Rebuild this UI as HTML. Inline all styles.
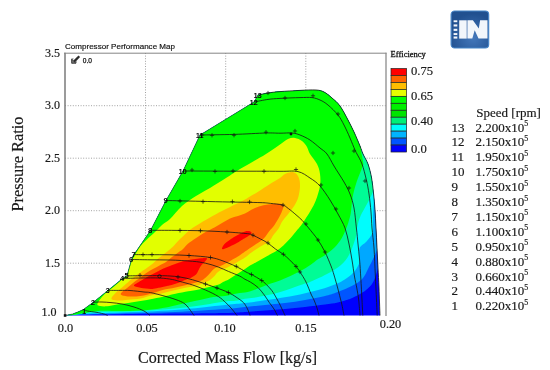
<!DOCTYPE html>
<html><head><meta charset="utf-8"><title>Compressor Performance Map</title>
<style>
html,body{margin:0;padding:0;background:#fff}
body{-webkit-text-stroke:0.18px #1a1a1a;filter:blur(0.3px);width:550px;height:370px;position:relative;overflow:hidden;font-family:"Liberation Serif",serif;color:#1a1a1a}
.t{position:absolute;white-space:nowrap;line-height:1}
.yt{font-size:12px;left:36px;width:24px;text-align:right}
.xt{font-size:12.3px;width:40px;text-align:center;top:322px}
.r{position:absolute;left:451.6px;font-size:13px;line-height:15px;white-space:nowrap;height:15px}
.r .n{position:absolute;left:0;top:0}
.r .v{position:absolute;left:24px;top:0}
.r sup{font-size:8px;vertical-align:baseline;position:relative;top:-5.5px;line-height:0}
</style></head><body>
<svg width="550" height="370" viewBox="0 0 550 370" style="position:absolute;left:0;top:0">
<line x1="145.5" y1="53" x2="145.5" y2="315" stroke="#8a8a8a" stroke-width="0.8" stroke-dasharray="1 1.6"/>
<line x1="225.7" y1="53" x2="225.7" y2="315" stroke="#8a8a8a" stroke-width="0.8" stroke-dasharray="1 1.6"/>
<line x1="305.8" y1="53" x2="305.8" y2="315" stroke="#8a8a8a" stroke-width="0.8" stroke-dasharray="1 1.6"/>
<line x1="65" y1="105.7" x2="386" y2="105.7" stroke="#8a8a8a" stroke-width="0.8" stroke-dasharray="1 1.6"/>
<line x1="65" y1="158.2" x2="386" y2="158.2" stroke="#8a8a8a" stroke-width="0.8" stroke-dasharray="1 1.6"/>
<line x1="65" y1="210.7" x2="386" y2="210.7" stroke="#8a8a8a" stroke-width="0.8" stroke-dasharray="1 1.6"/>
<line x1="65" y1="263.2" x2="386" y2="263.2" stroke="#8a8a8a" stroke-width="0.8" stroke-dasharray="1 1.6"/>
<defs><filter id="soft" x="-5%" y="-5%" width="110%" height="110%"><feGaussianBlur stdDeviation="0.45"/></filter></defs><g id="map" filter="url(#soft)">
<path d="M65.0,315.4L72.7,314.0L79.0,311.5L83.5,309.5L85.5,307.9L93.3,302.3L108.0,290.4L122.6,278.5L127.0,275.8L131.5,259.5L134.0,254.6L150.6,230.3L166.0,200.5L183.0,171.0L200.0,135.0L254.0,102.0L258.0,95.0L258.0,95.0C259.7,94.7 264.3,93.6 268.0,93.0C271.7,92.4 274.7,92.0 280.0,91.6C285.3,91.2 294.0,90.7 300.0,90.4C306.0,90.1 312.0,89.7 316.0,90.0C320.0,90.3 321.3,90.7 324.0,92.0C326.7,93.3 329.3,95.7 332.0,98.0C334.7,100.3 337.3,102.3 340.0,106.0C342.7,109.7 345.7,115.7 348.0,120.0C350.3,124.3 352.0,127.7 354.0,132.0C356.0,136.3 358.5,142.3 360.0,146.0C361.5,149.7 361.7,151.0 363.0,154.0C364.3,157.0 366.6,160.0 368.0,164.0C369.4,168.0 370.7,173.0 371.6,178.0C372.5,183.0 373.0,188.7 373.6,194.0C374.2,199.3 374.6,204.3 375.0,210.0C375.4,215.7 375.7,221.7 376.0,228.0C376.3,234.3 376.7,241.3 377.0,248.0C377.3,254.7 377.7,261.3 378.0,268.0C378.3,274.7 378.7,280.1 379.0,288.0C379.3,295.9 379.8,310.9 380.0,315.5L65,315.5Z" fill="#0000fe"/>
<path d="M65.0,315.4L72.7,314.0L79.0,311.5L83.5,309.5L85.5,307.9L93.3,302.3L108.0,290.4L122.6,278.5L127.0,275.8L131.5,259.5L134.0,254.6L150.6,230.3L166.0,200.5L183.0,171.0L200.0,135.0L254.0,102.0L258.0,95.0L268.0,93.0C270.0,92.8 274.7,92.0 280.0,91.6C285.3,91.2 294.0,90.7 300.0,90.4C306.0,90.1 312.0,89.7 316.0,90.0C320.0,90.3 321.3,90.7 324.0,92.0C326.7,93.3 329.3,95.7 332.0,98.0C334.7,100.3 337.3,102.3 340.0,106.0C342.7,109.7 345.7,115.7 348.0,120.0C350.3,124.3 352.0,127.7 354.0,132.0C356.0,136.3 358.5,142.3 360.0,146.0C361.5,149.7 361.7,151.0 363.0,154.0C364.3,157.0 366.6,160.0 368.0,164.0C369.4,168.0 370.7,173.0 371.6,178.0C372.5,183.0 373.0,188.7 373.6,194.0C374.2,199.3 374.6,204.3 375.0,210.0C375.4,215.7 375.7,221.7 376.0,228.0C376.3,234.3 376.7,241.3 377.0,248.0C377.3,254.7 377.8,264.7 378.0,268.0L378.0,268.0C377.6,269.4 376.5,273.8 375.5,276.5C374.5,279.2 373.6,281.8 372.0,284.0C370.4,286.2 368.0,288.3 366.0,290.0C364.0,291.7 362.6,292.6 360.0,294.0C357.4,295.4 354.2,297.3 350.5,298.7C346.8,300.1 341.9,301.5 337.7,302.5C333.4,303.5 330.4,303.8 325.0,304.5C319.6,305.2 311.7,306.2 305.0,307.0C298.3,307.8 291.7,308.4 285.0,309.0C278.3,309.6 271.7,310.1 265.0,310.6C258.3,311.1 251.7,311.6 245.0,312.0C238.3,312.4 236.7,312.7 225.0,313.0C213.3,313.3 192.5,313.4 175.0,313.6C157.5,313.8 135.0,314.0 120.0,314.2C105.0,314.4 94.0,314.6 85.0,314.8C76.0,315.0 69.2,315.3 66.0,315.4Z" fill="#0055ff"/>
<path d="M65.0,315.4L72.7,314.0L79.0,311.5L83.5,309.5L85.5,307.9L93.3,302.3L108.0,290.4L122.6,278.5L127.0,275.8L131.5,259.5L134.0,254.6L150.6,230.3L166.0,200.5L183.0,171.0L200.0,135.0L254.0,102.0L258.0,95.0L268.0,93.0C270.0,92.8 274.7,92.0 280.0,91.6C285.3,91.2 294.0,90.7 300.0,90.4C306.0,90.1 312.0,89.7 316.0,90.0C320.0,90.3 321.3,90.7 324.0,92.0C326.7,93.3 329.3,95.7 332.0,98.0C334.7,100.3 337.3,102.3 340.0,106.0C342.7,109.7 345.7,115.7 348.0,120.0C350.3,124.3 352.0,127.7 354.0,132.0C356.0,136.3 358.5,142.3 360.0,146.0C361.5,149.7 361.7,151.0 363.0,154.0C364.3,157.0 366.6,160.0 368.0,164.0C369.4,168.0 370.7,173.0 371.6,178.0C372.5,183.0 373.0,188.7 373.6,194.0C374.2,199.3 374.6,204.3 375.0,210.0C375.4,215.7 375.7,221.7 376.0,228.0C376.3,234.3 376.8,244.3 377.0,248.0C377.2,251.7 377.1,249.7 377.1,250.0L376.9,250.0C376.4,251.2 375.5,253.8 374.0,257.0C372.5,260.2 369.8,265.5 368.0,269.0C366.2,272.5 365.1,275.5 363.0,278.0C360.9,280.5 358.4,282.2 355.5,284.0C352.6,285.8 348.8,287.5 345.4,289.0C342.0,290.5 338.4,291.8 335.0,293.0C331.6,294.2 330.0,294.8 325.0,296.0C320.0,297.2 311.7,298.8 305.0,300.0C298.3,301.2 291.7,302.2 285.0,303.0C278.3,303.8 271.7,304.3 265.0,305.0C258.3,305.7 251.7,306.3 245.0,307.0C238.3,307.7 236.7,308.2 225.0,309.0C213.3,309.8 192.5,311.2 175.0,312.0C157.5,312.8 135.0,313.1 120.0,313.5C105.0,313.9 94.0,314.0 85.0,314.3C76.0,314.6 69.2,315.1 66.0,315.3Z" fill="#00a8ff"/>
<path d="M65.0,315.4L72.7,314.0L79.0,311.5L83.5,309.5L85.5,307.9L93.3,302.3L108.0,290.4L122.6,278.5L127.0,275.8L131.5,259.5L134.0,254.6L150.6,230.3L166.0,200.5L183.0,171.0L200.0,135.0L254.0,102.0L258.0,95.0L268.0,93.0C270.0,92.8 274.7,92.0 280.0,91.6C285.3,91.2 294.0,90.7 300.0,90.4C306.0,90.1 312.0,89.7 316.0,90.0C320.0,90.3 321.3,90.7 324.0,92.0C326.7,93.3 329.3,95.7 332.0,98.0C334.7,100.3 337.3,102.3 340.0,106.0C342.7,109.7 345.7,115.7 348.0,120.0C350.3,124.3 352.0,127.7 354.0,132.0C356.0,136.3 358.5,142.3 360.0,146.0C361.5,149.7 361.7,151.0 363.0,154.0C364.3,157.0 366.6,160.0 368.0,164.0C369.4,168.0 370.7,173.0 371.6,178.0C372.5,183.0 373.2,191.0 373.6,194.0C374.0,197.0 373.7,195.7 373.8,196.0L374.0,196.0C373.9,198.7 373.4,207.3 373.2,212.0C373.0,216.7 373.1,220.5 373.0,224.0C372.9,227.5 373.5,230.1 372.4,233.0C371.3,235.9 368.6,239.1 366.5,241.5C364.4,243.9 361.0,245.2 359.8,247.5C358.6,249.8 359.3,252.6 359.3,255.0C359.3,257.4 360.2,259.5 359.6,262.0C359.0,264.5 357.1,267.7 355.5,270.0C353.9,272.3 352.1,274.1 350.0,275.8C347.9,277.6 345.3,279.1 343.0,280.5C340.7,281.9 339.8,282.5 336.0,284.0C332.2,285.5 326.0,287.8 320.0,289.5C314.0,291.2 306.7,293.1 300.0,294.5C293.3,295.9 285.8,297.0 280.0,298.0C274.2,299.0 270.8,299.5 265.0,300.3C259.2,301.1 251.7,302.2 245.0,303.0C238.3,303.8 236.7,303.8 225.0,305.0C213.3,306.2 192.5,308.7 175.0,310.0C157.5,311.3 135.0,312.0 120.0,312.6C105.0,313.2 94.0,313.3 85.0,313.7C76.0,314.1 69.2,314.9 66.0,315.2Z" fill="#00fdfd"/>
<path d="M65.0,315.4L72.7,314.0L79.0,311.5L83.5,309.5L85.5,307.9L93.3,302.3L108.0,290.4L122.6,278.5L127.0,275.8L131.5,259.5L134.0,254.6L150.6,230.3L166.0,200.5L183.0,171.0L200.0,135.0L254.0,102.0L258.0,95.0L268.0,93.0C270.0,92.8 274.7,92.0 280.0,91.6C285.3,91.2 294.0,90.7 300.0,90.4C306.0,90.1 312.0,89.7 316.0,90.0C320.0,90.3 321.3,90.7 324.0,92.0C326.7,93.3 329.3,95.7 332.0,98.0C334.7,100.3 337.3,102.3 340.0,106.0C342.7,109.7 345.7,115.7 348.0,120.0C350.3,124.3 352.0,127.7 354.0,132.0C356.0,136.3 358.5,142.3 360.0,146.0C361.5,149.7 361.7,151.0 363.0,154.0C364.3,157.0 366.6,160.0 368.0,164.0C369.4,168.0 370.8,173.7 371.6,178.0C372.5,182.3 372.9,188.0 373.1,190.0L373.3,190.0C373.1,190.7 373.1,191.7 372.0,194.0C370.9,196.3 368.9,200.3 367.0,204.0C365.1,207.7 362.2,212.0 360.5,216.0C358.8,220.0 357.8,224.3 357.0,228.0C356.2,231.7 356.8,233.7 355.5,238.0C354.2,242.3 351.9,249.5 349.5,254.0C347.1,258.5 344.8,261.6 341.0,265.0C337.2,268.4 331.7,271.5 326.5,274.3C321.3,277.1 313.6,280.4 310.0,282.0C306.4,283.6 307.9,282.6 305.0,283.6C302.1,284.6 296.6,286.6 292.3,288.0C288.1,289.4 283.8,291.0 279.5,292.2C275.2,293.4 271.1,294.4 266.8,295.3C262.6,296.2 257.6,297.2 254.0,297.8C250.4,298.4 248.2,298.2 245.0,298.7C241.8,299.2 238.3,300.3 235.0,300.8C231.7,301.3 230.8,300.7 225.0,301.5C219.2,302.3 208.3,304.3 200.0,305.5C191.7,306.7 183.3,307.7 175.0,308.5C166.7,309.3 159.2,309.9 150.0,310.5C140.8,311.1 128.7,311.6 120.0,311.8C111.3,312.0 103.8,311.6 98.0,311.8C92.2,312.0 89.2,312.7 85.0,313.2C80.8,313.7 75.9,314.6 72.7,315.0C69.5,315.4 67.1,315.2 66.0,315.3Z" fill="#00fc96"/>
<path d="M65.0,315.4L72.7,314.0L79.0,311.5L83.5,309.5L85.5,307.9L93.3,302.3L108.0,290.4L122.6,278.5L127.0,275.8L131.5,259.5L134.0,254.6L150.6,230.3L166.0,200.5L183.0,171.0L200.0,135.0L254.0,102.0L258.0,95.0L268.0,93.0C270.0,92.8 274.7,92.0 280.0,91.6C285.3,91.2 294.0,90.7 300.0,90.4C306.0,90.1 312.0,89.7 316.0,90.0C320.0,90.3 321.3,90.7 324.0,92.0C326.7,93.3 329.3,95.7 332.0,98.0C334.7,100.3 337.3,102.3 340.0,106.0C342.7,109.7 345.7,115.7 348.0,120.0C350.3,124.3 352.0,127.7 354.0,132.0C356.0,136.3 359.0,143.7 360.0,146.0L360.3,146.0C360.6,147.7 361.5,153.0 362.0,156.0C362.5,159.0 363.3,162.0 363.3,164.0C363.3,166.0 363.2,164.7 362.0,168.0C360.8,171.3 357.6,179.0 356.0,184.0C354.4,189.0 353.4,193.2 352.5,198.0C351.6,202.8 351.5,209.0 350.8,213.0C350.1,217.0 349.3,219.2 348.5,222.0C347.7,224.8 347.0,226.8 345.8,229.5C344.6,232.2 343.3,235.6 341.5,238.5C339.7,241.4 337.6,244.3 335.0,247.0C332.4,249.7 328.8,252.4 326.0,254.5C323.2,256.6 320.6,257.6 318.0,259.3C315.4,261.0 313.6,262.8 310.7,264.7C307.8,266.6 303.9,269.1 300.5,271.0C297.1,272.9 293.8,274.4 290.4,276.0C287.0,277.6 283.4,279.1 280.0,280.4C276.6,281.7 273.2,282.5 270.0,283.7C266.8,284.9 264.2,286.1 260.5,287.5C256.8,288.9 251.6,291.0 247.7,292.0C243.8,293.0 240.8,292.8 237.0,293.5C233.2,294.2 228.9,295.4 225.0,296.0C221.1,296.6 217.6,296.4 213.6,297.0C209.6,297.6 205.2,298.9 201.0,299.8C196.8,300.7 192.5,301.6 188.2,302.5C183.9,303.4 178.7,304.7 175.0,305.5C171.3,306.3 170.2,306.8 166.0,307.5C161.8,308.2 156.0,309.2 150.0,309.8C144.0,310.4 136.5,310.8 130.0,311.0C123.5,311.2 116.3,311.0 111.0,311.0C105.7,311.0 102.5,310.7 98.2,311.0C94.0,311.3 89.8,312.1 85.5,312.8C81.2,313.5 76.0,314.6 72.7,315.0C69.5,315.4 67.1,315.2 66.0,315.3Z" fill="#00ff00"/>
<path d="M97.5,303.6C98.2,301.7 101.8,297.2 104.0,294.8C106.2,292.4 108.8,290.7 111.0,288.9C113.2,287.1 115.0,285.5 117.0,283.9C119.0,282.2 121.2,280.3 123.0,279.0C124.8,277.7 126.5,277.5 127.5,276.0C128.5,274.5 128.2,272.6 129.0,270.0C129.8,267.4 131.0,262.9 132.0,260.5C133.0,258.1 133.5,257.8 134.8,255.5C136.1,253.2 138.1,249.4 140.0,246.8C141.9,244.2 143.8,242.5 146.3,240.0C148.8,237.5 152.4,234.5 155.0,232.0C157.6,229.5 159.5,227.2 162.0,225.0C164.5,222.8 166.7,222.2 170.0,219.0C173.3,215.8 177.7,209.8 182.0,206.0C186.3,202.2 191.3,199.0 196.0,196.0C200.7,193.0 205.0,191.0 210.0,188.0C215.0,185.0 221.0,181.2 226.0,178.0C231.0,174.8 235.3,171.8 240.0,169.0C244.7,166.2 249.7,163.5 254.0,161.0C258.3,158.5 261.7,156.8 266.0,154.0C270.3,151.2 276.3,147.0 280.0,144.5C283.7,142.0 285.5,140.1 288.0,139.0C290.5,137.9 292.7,137.7 295.0,138.0C297.3,138.3 300.0,139.5 302.0,141.0C304.0,142.5 305.7,144.8 307.0,147.0C308.3,149.2 308.3,151.2 310.0,154.0C311.7,156.8 315.3,160.7 317.0,164.0C318.7,167.3 319.5,170.3 320.0,174.0C320.5,177.7 320.7,181.7 320.0,186.0C319.3,190.3 317.5,196.0 316.0,200.0C314.5,204.0 312.7,207.0 311.0,210.0C309.3,213.0 307.7,215.4 306.0,218.0C304.3,220.6 302.7,223.4 301.0,225.6C299.3,227.8 297.9,229.2 296.0,231.4C294.1,233.6 291.8,236.7 289.7,239.0C287.6,241.3 285.5,243.5 283.4,245.4C281.3,247.3 279.8,248.7 277.0,250.5C274.2,252.3 270.2,254.3 266.8,256.2C263.4,258.1 259.4,260.4 256.6,262.0C253.8,263.6 251.9,264.4 250.0,265.6C248.1,266.8 246.8,267.9 245.0,269.0C243.2,270.1 241.3,271.3 239.5,272.5C237.7,273.7 235.8,274.9 234.0,276.0C232.2,277.1 230.4,278.4 228.6,279.4C226.8,280.4 224.6,281.1 223.0,282.0C221.4,282.9 220.8,283.8 218.8,284.5C216.8,285.2 213.6,285.8 211.0,286.5C208.4,287.2 205.7,287.9 203.0,288.5C200.3,289.1 197.5,289.7 195.0,290.2C192.5,290.7 191.4,290.7 188.2,291.3C184.9,291.9 179.2,292.9 175.5,293.7C171.8,294.5 169.7,295.1 166.0,296.0C162.3,296.9 157.4,297.9 153.2,298.8C148.9,299.7 144.7,300.4 140.5,301.1C136.3,301.8 131.9,302.3 128.0,302.9C124.1,303.4 120.5,303.8 117.0,304.4C113.5,305.0 109.8,306.0 107.0,306.3C104.2,306.6 101.6,306.4 100.0,306.0C98.4,305.6 96.8,305.5 97.5,303.6Z" fill="#e2ff00"/>
<path d="M111.5,298.0C111.9,296.8 114.2,294.2 116.0,292.5C117.8,290.8 120.0,289.2 122.0,287.5C124.0,285.8 125.5,284.3 127.7,282.4C129.9,280.5 133.1,277.8 135.4,276.0C137.7,274.2 139.8,272.8 141.7,271.5C143.6,270.2 144.9,269.4 146.8,268.0C148.7,266.6 151.1,264.9 153.2,263.2C155.3,261.4 157.4,259.3 159.5,257.5C161.6,255.7 163.9,254.1 166.0,252.4C168.1,250.7 170.2,249.3 172.3,247.3C174.4,245.3 176.8,242.3 178.6,240.5C180.4,238.7 181.1,238.1 183.0,236.3C184.9,234.5 187.8,231.6 190.0,229.8C192.2,228.0 193.2,227.6 196.5,225.5C199.8,223.4 205.8,219.9 210.0,217.5C214.2,215.1 217.7,213.2 222.0,211.0C226.3,208.8 232.2,205.9 236.0,204.0C239.8,202.1 242.7,200.8 245.0,199.5C247.3,198.2 247.9,197.7 250.0,196.4C252.1,195.2 254.4,194.1 257.7,192.0C261.0,189.9 266.3,186.3 270.0,184.0C273.7,181.7 277.5,179.7 280.0,178.0C282.5,176.3 283.0,175.0 285.0,174.0C287.0,173.0 290.0,171.9 292.0,172.0C294.0,172.1 295.8,173.2 297.0,174.5C298.2,175.8 299.0,178.1 299.5,180.0C300.0,181.9 300.0,184.3 300.0,186.0C300.0,187.7 299.9,188.3 299.7,190.0C299.4,191.7 299.1,194.3 298.5,196.4C297.9,198.5 297.1,200.6 296.0,202.7C294.9,204.8 293.5,206.9 292.0,209.0C290.5,211.1 288.7,213.4 287.0,215.5C285.3,217.6 283.4,219.6 282.0,221.8C280.6,224.1 279.8,226.8 278.3,229.0C276.8,231.2 274.7,233.2 273.2,235.2C271.7,237.2 271.5,239.1 269.4,241.0C267.3,242.9 263.5,244.7 260.5,246.6C257.5,248.5 254.1,250.7 251.5,252.5C248.9,254.3 247.0,256.1 245.0,257.5C243.0,258.9 241.5,259.6 239.5,260.8C237.5,262.0 235.0,263.5 233.0,264.6C231.0,265.7 229.3,266.6 227.5,267.4C225.7,268.2 223.6,268.7 222.0,269.5C220.4,270.3 218.9,271.2 217.7,272.3C216.4,273.4 215.8,274.7 214.5,276.0C213.2,277.3 211.7,278.9 210.0,280.0C208.3,281.1 206.4,281.8 204.6,282.6C202.8,283.4 201.7,284.2 199.0,285.0C196.3,285.8 192.1,286.5 188.2,287.3C184.3,288.1 179.8,289.0 175.5,290.0C171.2,291.0 166.9,292.2 162.7,293.2C158.4,294.1 153.7,294.8 150.0,295.7C146.3,296.6 144.2,297.8 140.5,298.5C136.8,299.2 130.9,299.5 127.7,299.8C124.5,300.1 123.4,300.5 121.0,300.5C118.6,300.5 115.1,300.4 113.5,300.0C111.9,299.6 111.1,299.2 111.5,298.0Z" fill="#ffbe00"/>
<path d="M120.7,294.0C120.7,292.5 125.2,289.7 127.7,287.5C130.2,285.3 132.8,283.0 135.4,281.0C138.0,279.0 140.2,277.3 143.0,275.4C145.8,273.5 149.2,271.2 152.0,269.6C154.8,268.0 157.2,266.8 159.5,265.5C161.8,264.2 163.9,263.4 166.0,262.0C168.1,260.6 170.2,258.4 172.3,256.8C174.4,255.2 176.8,253.5 178.6,252.2C180.4,250.9 181.5,250.4 183.0,249.0C184.5,247.6 185.3,245.9 187.6,244.0C189.8,242.1 193.5,239.7 196.5,237.7C199.5,235.7 202.5,233.7 205.5,232.0C208.5,230.3 211.7,229.0 214.4,227.5C217.2,226.0 219.4,224.5 222.0,223.0C224.6,221.5 227.3,219.7 230.0,218.5C232.7,217.3 235.5,216.8 238.0,216.0C240.5,215.2 242.8,214.6 245.0,213.5C247.2,212.4 249.1,210.9 251.4,209.7C253.7,208.5 256.2,207.3 259.0,206.5C261.8,205.7 265.0,205.1 268.0,204.6C271.0,204.1 274.4,203.8 276.8,203.7C279.2,203.6 281.4,203.7 282.5,204.2C283.6,204.7 283.7,205.0 283.5,206.5C283.3,208.0 282.2,210.9 281.3,213.0C280.4,215.1 279.3,217.1 278.0,219.3C276.7,221.5 275.0,224.4 273.6,226.3C272.2,228.2 270.8,229.3 269.4,231.0C268.0,232.7 266.8,234.9 265.5,236.5C264.2,238.1 263.6,238.8 261.7,240.3C259.8,241.8 256.8,243.5 254.0,245.4C251.2,247.3 247.4,249.8 245.0,251.5C242.6,253.2 241.5,254.1 239.5,255.4C237.5,256.7 235.2,257.9 233.0,259.2C230.8,260.5 228.7,261.8 226.5,263.0C224.3,264.2 222.0,265.4 220.0,266.3C218.0,267.2 216.0,267.6 214.5,268.5C213.0,269.4 212.5,270.3 211.2,271.7C209.9,273.1 208.2,275.2 206.8,276.6C205.4,278.0 204.3,279.0 202.5,280.0C200.7,281.0 198.4,281.9 196.0,282.6C193.6,283.4 191.6,283.7 188.2,284.5C184.8,285.3 179.8,286.6 175.5,287.5C171.2,288.4 166.4,289.1 162.7,290.0C159.0,290.9 156.9,292.0 153.2,293.0C149.5,294.0 144.8,295.4 140.5,296.0C136.2,296.6 131.0,296.7 127.7,296.4C124.4,296.1 120.7,295.5 120.7,294.0Z" fill="#ff6400"/>
<path d="M134.0,285.5C134.0,284.4 138.2,282.5 140.5,281.0C142.8,279.5 145.5,278.0 148.0,276.6C150.5,275.2 153.1,273.9 155.7,272.5C158.3,271.1 160.6,269.8 163.4,268.5C166.2,267.2 169.5,266.0 172.3,265.0C175.1,264.0 177.8,263.1 180.0,262.3C182.2,261.6 183.7,261.0 185.6,260.5C187.5,260.0 189.3,259.8 191.5,259.5C193.7,259.2 196.6,258.8 199.0,258.5C201.4,258.2 204.4,257.9 205.7,258.0C207.0,258.1 207.2,258.4 206.8,259.2C206.4,260.0 204.6,261.7 203.5,263.0C202.4,264.3 201.2,265.4 200.3,266.8C199.4,268.2 198.7,269.9 198.0,271.2C197.3,272.5 197.1,273.4 196.0,274.5C194.9,275.6 193.3,276.6 191.5,277.5C189.7,278.4 186.8,279.2 185.0,280.0C183.2,280.8 182.7,281.2 180.5,282.0C178.3,282.8 174.6,284.2 171.6,285.0C168.6,285.8 165.5,286.4 162.7,287.0C159.9,287.6 157.0,288.2 155.0,288.5C153.0,288.8 153.0,289.1 150.6,289.0C148.2,288.9 143.3,288.4 140.5,287.8C137.7,287.2 134.0,286.6 134.0,285.5Z" fill="#ff0000"/>
<path d="M222.0,248.5C222.1,247.7 223.0,245.6 224.5,244.0C226.0,242.4 228.9,240.5 231.0,239.0C233.1,237.5 235.0,236.4 237.3,235.2C239.6,233.9 242.8,232.1 245.0,231.5C247.2,230.9 249.2,231.0 250.3,231.4C251.4,231.8 251.9,232.8 251.5,233.7C251.1,234.5 249.2,235.5 247.7,236.5C246.2,237.5 244.3,238.4 242.6,239.5C240.9,240.6 239.4,241.6 237.3,242.8C235.2,244.0 232.2,245.5 230.0,246.5C227.8,247.5 225.3,248.7 224.0,249.0C222.7,249.3 221.9,249.3 222.0,248.5Z" fill="#ff0000"/>
</g>
<g fill="none" stroke="#151515" stroke-width="0.8" stroke-linejoin="round">
<path d="M65.0,315.4L72.7,314.0L79.0,311.5L83.5,309.5L85.5,307.9L93.3,302.3L108.0,290.4L122.6,278.5L127.0,275.8L131.5,259.5L134.0,254.6L150.6,230.3L166.0,200.5L183.0,171.0L200.0,135.0L254.0,102.0L258.0,95.0" stroke-width="0.55" stroke="#222"/>
<path d="M258.0,95.0C259.7,94.7 264.3,93.6 268.0,93.0C271.7,92.4 274.7,92.0 280.0,91.6C285.3,91.2 294.0,90.7 300.0,90.4C306.0,90.1 312.0,89.7 316.0,90.0C320.0,90.3 321.3,90.7 324.0,92.0C326.7,93.3 329.3,95.7 332.0,98.0C334.7,100.3 337.3,102.3 340.0,106.0C342.7,109.7 345.7,115.7 348.0,120.0C350.3,124.3 352.0,127.7 354.0,132.0C356.0,136.3 358.5,142.3 360.0,146.0C361.5,149.7 361.7,151.0 363.0,154.0C364.3,157.0 366.6,160.0 368.0,164.0C369.4,168.0 370.7,173.0 371.6,178.0C372.5,183.0 373.0,188.7 373.6,194.0C374.2,199.3 374.6,204.3 375.0,210.0C375.4,215.7 375.7,221.7 376.0,228.0C376.3,234.3 376.7,241.3 377.0,248.0C377.3,254.7 377.7,261.3 378.0,268.0C378.3,274.7 378.7,280.1 379.0,288.0C379.3,295.9 379.8,310.9 380.0,315.5"/>
<path d="M254.0,102.0C256.3,101.6 263.7,100.0 268.0,99.4C272.3,98.8 274.7,98.7 280.0,98.4C285.3,98.1 294.7,97.7 300.0,97.6C305.3,97.5 308.7,97.2 312.0,97.6C315.3,98.0 317.3,98.8 320.0,100.0C322.7,101.2 325.0,102.5 328.0,105.0C331.0,107.5 335.3,111.7 338.0,115.0C340.7,118.3 342.0,121.2 344.0,125.0C346.0,128.8 348.2,133.8 350.0,138.0C351.8,142.2 353.8,147.3 355.0,150.0C356.2,152.7 355.8,151.7 357.0,154.0C358.2,156.3 360.4,159.7 362.0,164.0C363.6,168.3 365.2,175.0 366.4,180.0C367.6,185.0 368.2,188.7 369.0,194.0C369.8,199.3 370.5,206.3 371.0,212.0C371.5,217.7 371.5,222.0 372.0,228.0C372.5,234.0 373.4,240.2 374.0,248.0C374.6,255.8 374.9,266.3 375.3,275.0C375.7,283.7 376.2,293.2 376.5,300.0C376.8,306.8 377.1,312.9 377.2,315.5"/>
<path d="M200.0,135.0C205.7,134.9 223.0,134.7 234.0,134.4C245.0,134.1 258.3,133.2 266.0,133.0C273.7,132.8 275.7,133.2 280.0,133.2C284.3,133.2 288.7,132.7 292.0,133.0C295.3,133.3 297.0,133.8 300.0,135.0C303.0,136.2 306.7,137.8 310.0,140.0C313.3,142.2 317.2,145.7 320.0,148.0C322.8,150.3 324.7,151.0 327.0,154.0C329.3,157.0 331.2,161.3 334.0,166.0C336.8,170.7 341.3,177.3 344.0,182.0C346.7,186.7 348.3,189.7 350.0,194.0C351.7,198.3 352.9,202.3 354.0,208.0C355.1,213.7 355.7,222.0 356.4,228.0C357.1,234.0 357.5,238.7 358.0,244.0C358.5,249.3 359.1,254.3 359.6,260.0C360.1,265.7 360.4,271.3 360.8,278.0C361.2,284.7 361.7,293.8 362.0,300.0C362.3,306.2 362.7,312.9 362.8,315.5"/>
<path d="M183.0,171.0C190.8,171.0 213.8,171.1 230.0,171.2C246.2,171.2 268.7,171.2 280.0,171.3C291.3,171.4 293.0,170.5 298.0,171.6C303.0,172.7 306.3,175.6 310.0,178.0C313.7,180.4 316.7,182.3 320.0,186.0C323.3,189.7 327.0,195.3 330.0,200.0C333.0,204.7 335.5,209.3 338.0,214.0C340.5,218.7 343.2,223.0 345.0,228.0C346.8,233.0 347.8,238.7 349.0,244.0C350.2,249.3 351.1,254.7 352.0,260.0C352.9,265.3 353.6,271.3 354.4,276.0C355.2,280.7 356.1,284.0 356.8,288.0C357.5,292.0 358.2,295.4 358.7,300.0C359.2,304.6 359.8,312.9 360.0,315.5"/>
<path d="M166.0,200.5C171.7,200.6 189.3,201.1 200.0,201.3C210.7,201.6 220.0,201.8 230.0,202.0C240.0,202.2 253.2,202.4 260.0,202.6C266.8,202.8 266.8,203.0 270.5,203.4C274.2,203.8 279.5,204.2 282.5,205.0C285.5,205.8 286.1,206.9 288.3,208.5C290.6,210.1 293.7,212.8 296.0,214.8C298.3,216.8 300.2,218.3 302.3,220.5C304.4,222.7 306.0,224.8 308.6,228.0C311.2,231.2 315.3,236.0 318.0,240.0C320.7,244.0 322.8,247.7 325.0,252.0C327.2,256.3 329.5,262.2 331.0,266.0C332.5,269.8 332.9,271.3 334.0,275.0C335.1,278.7 336.4,283.3 337.7,288.0C338.9,292.7 340.4,298.4 341.5,303.0C342.6,307.6 343.6,313.4 344.0,315.5"/>
<path d="M150.6,230.3C154.7,230.3 166.7,230.3 175.0,230.4C183.3,230.5 191.7,230.4 200.4,230.7C209.1,231.0 219.1,231.5 227.0,232.0C234.9,232.5 243.4,233.2 247.7,233.7C252.0,234.2 250.7,234.3 252.8,235.2C254.9,236.1 258.1,237.7 260.5,239.0C262.9,240.3 265.0,241.1 267.5,242.8C270.0,244.5 273.1,247.3 275.7,249.2C278.3,251.1 281.1,252.5 283.4,254.3C285.7,256.1 287.6,258.0 289.7,260.0C291.8,262.0 294.3,264.4 296.0,266.4C297.7,268.4 298.3,269.4 300.0,272.0C301.7,274.6 304.2,278.3 306.0,282.0C307.8,285.7 309.7,291.0 311.0,294.0C312.3,297.0 313.0,297.7 314.0,300.0C315.0,302.3 316.2,305.4 317.0,308.0C317.8,310.6 318.7,314.2 319.0,315.5"/>
<path d="M134.0,254.6C136.7,254.6 144.0,254.7 150.0,254.7C156.0,254.7 163.5,254.7 170.0,254.8C176.5,254.9 182.2,255.1 189.0,255.5C195.8,255.9 205.0,256.6 210.5,257.5C216.0,258.4 217.8,259.1 222.0,260.6C226.2,262.1 232.0,264.5 236.0,266.4C240.0,268.3 243.4,270.6 246.0,272.0C248.6,273.4 248.9,273.1 251.5,274.5C254.1,275.9 258.9,278.6 261.7,280.5C264.4,282.4 266.1,284.2 268.0,286.2C269.9,288.2 271.5,289.9 273.2,292.5C274.9,295.1 276.8,298.8 278.3,301.5C279.8,304.2 280.9,306.7 282.0,309.0C283.1,311.3 284.5,314.4 285.0,315.5"/>
<path d="M131.5,259.5C134.6,259.6 143.6,259.7 150.0,259.8C156.4,259.9 162.9,259.8 170.0,260.0C177.1,260.2 186.8,260.8 192.7,261.3C198.6,261.8 201.2,262.2 205.5,263.2C209.8,264.1 214.4,265.6 218.2,267.0C222.0,268.4 224.8,269.9 228.4,271.4C232.0,272.9 236.7,274.7 239.5,276.0C242.3,277.3 243.2,278.3 245.0,279.3C246.8,280.3 248.1,280.6 250.3,282.0C252.5,283.4 255.7,285.3 258.0,287.5C260.3,289.7 262.4,292.5 264.3,295.0C266.2,297.5 267.8,300.4 269.4,302.7C271.0,305.0 272.7,306.9 274.0,309.0C275.3,311.1 276.8,314.4 277.4,315.5"/>
<path d="M127.0,275.8C130.0,275.8 139.6,275.7 145.0,275.7C150.4,275.7 155.3,275.6 159.5,275.6C163.7,275.7 166.6,275.8 170.0,276.0C173.4,276.2 176.2,276.4 180.0,277.0C183.8,277.6 188.4,278.6 192.7,279.8C196.9,281.0 201.4,282.6 205.5,284.0C209.6,285.4 213.2,286.6 217.0,288.0C220.8,289.4 225.2,291.0 228.4,292.5C231.6,294.0 233.5,295.3 236.0,297.0C238.5,298.7 241.7,300.7 243.6,302.7C245.5,304.7 246.4,306.9 247.5,309.0C248.6,311.1 249.6,314.4 250.0,315.5"/>
<path d="M122.6,278.5C125.6,278.4 134.3,278.1 140.5,278.0C146.7,277.9 154.2,277.8 159.5,278.0C164.8,278.2 168.9,278.9 172.3,279.5C175.7,280.1 176.6,280.6 180.0,281.5C183.4,282.4 188.4,283.6 192.7,285.0C196.9,286.4 201.2,288.1 205.5,290.0C209.8,291.9 214.8,294.3 218.2,296.4C221.6,298.5 223.7,300.8 225.8,302.7C227.9,304.6 229.1,305.9 231.0,308.0C232.9,310.1 236.0,314.2 237.0,315.5"/>
<path d="M108.0,290.4C110.0,290.4 116.3,290.4 120.0,290.4C123.7,290.4 126.0,290.2 130.0,290.5C134.0,290.8 140.6,291.6 144.0,292.0C147.4,292.4 146.9,291.9 150.6,292.6C154.3,293.4 161.3,295.2 166.0,296.5C170.7,297.8 175.4,299.4 178.6,300.6C181.8,301.9 183.3,302.7 185.0,304.0C186.7,305.3 187.5,306.6 189.0,308.5C190.5,310.4 193.2,314.3 194.0,315.5"/>
<path d="M93.3,302.3C94.8,302.2 99.0,301.9 102.0,302.0C105.0,302.1 107.7,302.3 111.0,302.6C114.3,302.9 118.2,303.3 122.0,304.0C125.8,304.7 130.3,305.8 134.0,307.0C137.7,308.2 141.3,309.6 144.0,311.0C146.7,312.4 149.0,314.8 150.0,315.5"/>
<path d="M83.5,309.6C84.2,309.8 86.1,310.6 87.5,311.0C88.9,311.4 90.0,311.4 91.8,311.7C93.6,312.0 96.1,312.2 98.2,312.6C100.3,313.0 102.9,313.7 104.5,314.2C106.1,314.7 107.2,315.3 107.7,315.5"/>
</g>
<line x1="65" y1="52.7" x2="65" y2="316" stroke="#7a7a7a" stroke-width="1.5"/>
<line x1="64" y1="53.2" x2="386.5" y2="53.2" stroke="#858585" stroke-width="1"/>
<line x1="386" y1="52.7" x2="386" y2="316" stroke="#8c8c8c" stroke-width="1.3"/>
<rect x="63.8" y="314.2" width="2.6" height="2.6" fill="#111"/>
<g font-family="Liberation Sans, sans-serif" font-size="7.7" font-weight="bold" fill="#0a0a0a" letter-spacing="-0.3"><text x="84.1" y="313.7" text-anchor="middle">1</text><text x="92.7" y="304.9" text-anchor="middle">2</text><text x="107.4" y="293.0" text-anchor="middle">3</text><text x="122.0" y="281.1" text-anchor="middle">4</text><text x="126.4" y="278.4" text-anchor="middle">5</text><text x="130.9" y="262.1" text-anchor="middle">6</text><text x="133.4" y="257.2" text-anchor="middle">7</text><text x="150.0" y="232.9" text-anchor="middle">8</text><text x="165.4" y="203.1" text-anchor="middle">9</text><text x="182.4" y="173.6" text-anchor="middle">10</text><text x="199.4" y="137.6" text-anchor="middle">11</text><text x="253.4" y="104.6" text-anchor="middle">12</text><text x="257.4" y="97.6" text-anchor="middle">13</text></g>
<path d="M265.9,93.0h4.2M268.0,90.9v4.2M282.9,98.0h4.2M285.0,95.9v4.2M310.9,95.8h4.2M313.0,93.7v4.2M335.9,114.0h4.2M338.0,111.9v4.2M351.9,151.0h4.2M354.0,148.9v4.2M362.9,181.0h4.2M365.0,178.9v4.2M199.9,135.0h4.2M202.0,132.9v4.2M209.9,135.3h4.2M212.0,133.2v4.2M231.9,135.2h4.2M234.0,133.1v4.2M263.9,132.2h4.2M266.0,130.1v4.2M292.9,131.0h4.2M295.0,128.9v4.2M330.9,153.0h4.2M333.0,150.9v4.2M346.9,188.0h4.2M349.0,185.9v4.2M189.9,170.0h4.2M192.0,167.9v4.2M212.9,171.4h4.2M215.0,169.3v4.2M230.9,171.0h4.2M233.0,168.9v4.2M261.9,171.3h4.2M264.0,169.2v4.2M293.9,169.5h4.2M296.0,167.4v4.2M318.9,185.0h4.2M321.0,182.9v4.2M333.9,209.0h4.2M336.0,206.9v4.2M177.9,201.0h4.2M180.0,198.9v4.2M200.9,201.6h4.2M203.0,199.5v4.2M230.3,201.6h4.2M232.4,199.5v4.2M247.5,202.0h4.2M249.6,199.9v4.2M280.9,205.0h4.2M283.0,202.9v4.2M303.9,224.0h4.2M306.0,221.9v4.2M315.9,240.0h4.2M318.0,237.9v4.2M322.9,252.0h4.2M325.0,249.9v4.2M177.9,230.4h4.2M180.0,228.3v4.2M198.3,230.7h4.2M200.4,228.6v4.2M224.9,232.0h4.2M227.0,229.9v4.2M250.9,235.2h4.2M253.0,233.1v4.2M265.9,243.0h4.2M268.0,240.9v4.2M281.3,254.3h4.2M283.4,252.2v4.2M293.9,266.4h4.2M296.0,264.3v4.2M297.9,272.0h4.2M300.0,269.9v4.2M140.9,254.6h4.2M143.0,252.5v4.2M149.9,254.6h4.2M152.0,252.5v4.2M186.9,255.5h4.2M189.0,253.4v4.2M208.4,257.5h4.2M210.5,255.4v4.2M234.2,266.3h4.2M236.3,264.2v4.2M249.4,274.5h4.2M251.5,272.4v4.2M259.6,280.5h4.2M261.7,278.4v4.2M137.9,275.3h4.2M140.0,273.2v4.2M175.9,277.0h4.2M178.0,274.9v4.2M203.4,284.0h4.2M205.5,281.9v4.2M214.9,288.0h4.2M217.0,285.9v4.2M226.3,292.5h4.2M228.4,290.4v4.2" stroke="#111" stroke-width="0.7" fill="none"/>
<circle cx="291" cy="134" r="1.4" fill="#111"/>
<circle cx="159.5" cy="276.3" r="1.6" fill="none" stroke="#111" stroke-width="0.8"/>
<rect x="391" y="68.50" width="15.6" height="6.96" fill="#ff0000" stroke="#222" stroke-width="0.7"/>
<rect x="391" y="75.46" width="15.6" height="6.96" fill="#ff6400" stroke="#222" stroke-width="0.7"/>
<rect x="391" y="82.42" width="15.6" height="6.96" fill="#ffbe00" stroke="#222" stroke-width="0.7"/>
<rect x="391" y="89.38" width="15.6" height="6.96" fill="#e6ff00" stroke="#222" stroke-width="0.7"/>
<rect x="391" y="96.34" width="15.6" height="6.96" fill="#00ff00" stroke="#222" stroke-width="0.7"/>
<rect x="391" y="103.30" width="15.6" height="6.96" fill="#00f000" stroke="#222" stroke-width="0.7"/>
<rect x="391" y="110.26" width="15.6" height="6.96" fill="#00e400" stroke="#222" stroke-width="0.7"/>
<rect x="391" y="117.22" width="15.6" height="6.96" fill="#00f078" stroke="#222" stroke-width="0.7"/>
<rect x="391" y="124.18" width="15.6" height="6.96" fill="#00fdfd" stroke="#222" stroke-width="0.7"/>
<rect x="391" y="131.14" width="15.6" height="6.96" fill="#00b4ff" stroke="#222" stroke-width="0.7"/>
<rect x="391" y="138.10" width="15.6" height="6.96" fill="#0055ff" stroke="#222" stroke-width="0.7"/>
<rect x="391" y="145.06" width="15.6" height="6.96" fill="#0000fe" stroke="#222" stroke-width="0.7"/>
<g><path d="M74,61.6 L79.3,56.3" stroke="#2a2a2a" stroke-width="2.3" fill="none"/><path d="M71.6,59.2 L75.9,63.2 L71.7,63.3 Z" fill="#777" stroke="#222" stroke-width="0.8" stroke-linejoin="round"/><path d="M71.6,59.2 L73.4,58.9 M75.9,63.2 L76.2,61.4" stroke="#222" stroke-width="0.8"/></g></svg>
<svg width="40" height="41" viewBox="0 0 40 41" style="position:absolute;left:450px;top:9px">
<defs><radialGradient id="lg" cx="58%" cy="72%" r="65%"><stop offset="0" stop-color="#4478bb"/><stop offset="1" stop-color="#21508f"/></radialGradient></defs>
<rect x="1.1" y="2" width="37.6" height="37" rx="3.5" fill="url(#lg)" stroke="#4685c8" stroke-width="1.1"/>
<g fill="#f2f6fb">
<rect x="3.6" y="11.3" width="3.7" height="1.9"/><rect x="3.6" y="15.4" width="3.7" height="2.1"/><rect x="3.6" y="19.8" width="3.7" height="2.1"/><rect x="3.6" y="24.1" width="3.7" height="1.9"/><rect x="3.6" y="27.5" width="3.7" height="2.1"/>
<rect x="9.2" y="11.3" width="7.5" height="18.3"/>
<path d="M17.4,11.3 L22.9,11.3 L28.8,19.4 L30.1,11.3 L37.5,11.3 L37.5,29.6 L28.5,29.6 L24.7,21.3 L22.3,29.6 L17.4,29.6 Z"/>
</g></svg>
<div class="t" style="left:65px;top:42.6px;font-family:'Liberation Sans',sans-serif;font-size:8.05px;color:#111">Compressor Performance Map</div>
<div class="t" style="left:82.8px;top:57.6px;font-family:'Liberation Sans',sans-serif;font-size:6.6px;color:#111;-webkit-text-stroke:0.25px #111">0.0</div>
<div class="t" style="left:390.6px;top:50px;font-size:8.5px;-webkit-text-stroke:0.3px #111;color:#111">Efficiency</div>
<div class="t yt" style="top:47.3px">3.5</div>
<div class="t yt" style="top:99px">3.0</div>
<div class="t yt" style="top:151.5px">2.5</div>
<div class="t yt" style="top:204px">2.0</div>
<div class="t yt" style="top:256.5px">1.5</div>
<div class="t yt" style="top:305.6px;left:32.5px">1.0</div>
<div class="t xt" style="left:45.5px">0.0</div>
<div class="t xt" style="left:127px">0.05</div>
<div class="t xt" style="left:205px">0.10</div>
<div class="t xt" style="left:286px">0.15</div>
<div class="t xt" style="left:370.5px;top:318.3px">0.20</div>
<div class="t" style="left:138px;top:350.4px;font-size:16px">Corrected Mass Flow [kg/s]</div>
<div class="t" style="left:18px;top:163.5px;font-size:16.4px;transform:translate(-50%,-50%) rotate(-90deg)">Pressure Ratio</div>
<div class="t" style="left:411px;top:64.6px;font-size:12.6px">0.75</div>
<div class="t" style="left:411px;top:90.2px;font-size:12.6px">0.65</div>
<div class="t" style="left:411px;top:115.2px;font-size:12.6px">0.40</div>
<div class="t" style="left:411px;top:142.7px;font-size:12.6px">0.0</div>
<div class="t" style="left:476.3px;top:106px;font-size:13px">Speed [rpm]</div>
<div class="r" style="top:119.5px"><span class="n">13</span><span class="v">2.200x10<sup>5</sup></span></div><div class="r" style="top:134.4px"><span class="n">12</span><span class="v">2.150x10<sup>5</sup></span></div><div class="r" style="top:149.3px"><span class="n">11</span><span class="v">1.950x10<sup>5</sup></span></div><div class="r" style="top:164.2px"><span class="n">10</span><span class="v">1.750x10<sup>5</sup></span></div><div class="r" style="top:179.1px"><span class="n">9</span><span class="v">1.550x10<sup>5</sup></span></div><div class="r" style="top:194.0px"><span class="n">8</span><span class="v">1.350x10<sup>5</sup></span></div><div class="r" style="top:208.9px"><span class="n">7</span><span class="v">1.150x10<sup>5</sup></span></div><div class="r" style="top:223.8px"><span class="n">6</span><span class="v">1.100x10<sup>5</sup></span></div><div class="r" style="top:238.7px"><span class="n">5</span><span class="v">0.950x10<sup>5</sup></span></div><div class="r" style="top:253.6px"><span class="n">4</span><span class="v">0.880x10<sup>5</sup></span></div><div class="r" style="top:268.5px"><span class="n">3</span><span class="v">0.660x10<sup>5</sup></span></div><div class="r" style="top:283.4px"><span class="n">2</span><span class="v">0.440x10<sup>5</sup></span></div><div class="r" style="top:298.3px"><span class="n">1</span><span class="v">0.220x10<sup>5</sup></span></div>
</body></html>
